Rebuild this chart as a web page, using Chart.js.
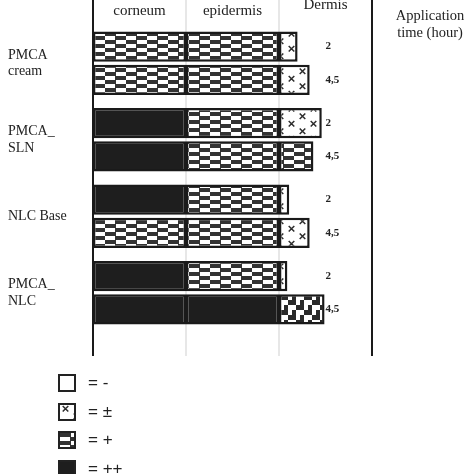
<!DOCTYPE html>
<html>
<head>
<meta charset="utf-8">
<script src="https://cdn.jsdelivr.net/npm/chart.js@4.4.0/dist/chart.umd.min.js"></script>
<style>
  body { margin: 0; background: #fff; }
  #wrap { position: relative; width: 474px; height: 474px; overflow: hidden; }
  #legend { position: absolute; left: 58px; top: 369px; font: 17px "Liberation Sans", Arial, sans-serif; color: #222; }
  .item { display: flex; align-items: center; height: 28.5px; }
  .item canvas { width: 18px; height: 18px; box-sizing: border-box; border: 2px solid #222; margin-right: 12px; }
</style>
</head>
<body>
<div id="wrap">
  <canvas id="chart"></canvas>
  <div id="legend"></div>
</div>
<script>
const groups = [['PMCA', 'cream'], ['PMCA_', 'SLN'], 'NLC Base', ['PMCA_', 'NLC']];
const times = ['2', '4,5'];
const layers = ['corneum', 'epidermis', 'Dermis'];

// how far the stain reaches into each layer (1 = whole layer)
const corneum2 = [1, 1, 1, 1];
const epidermis2 = [1, 1, 1, 1];
const dermis2 = [0.2, 0.46, 0.11, 0.09];
const corneum45 = [1, 1, 1, 1];
const epidermis45 = [1, 1, 1, 1];
const dermis45 = [0.33, 0.37, 0.33, 0.49];

// intensity in each layer
const corneumLevel2 = ['+', '++', '++', '++'];
const epidermisLevel2 = ['+', '+', '+', '+'];
const dermisLevel2 = ['±', '±', '±', '±'];
const corneumLevel45 = ['+', '++', '+', '++'];
const epidermisLevel45 = ['+', '+', '+', '++'];
const dermisLevel45 = ['±', '+', '±', '+*'];

const legendLevels = ['-', '±', '+', '++'];

function makeTile(w, h, draw) {
    let c = document.createElement('canvas');
    c.width = w;
    c.height = h;
    let ctx = c.getContext('2d');
    ctx.fillStyle = '#fff';
    ctx.fillRect(0, 0, w, h);
    draw(ctx);
    return c.getContext('2d').createPattern(c, 'repeat');
}

function cross(ctx, cx, cy, r) {
    ctx.beginPath();
    ctx.moveTo(cx - r, cy - r); ctx.lineTo(cx + r, cy + r);
    ctx.moveTo(cx + r, cy - r); ctx.lineTo(cx - r, cy + r);
    ctx.stroke();
}

const fills = {
    '-': '#ffffff',
    '±': makeTile(22, 15, ctx => {
        ctx.strokeStyle = '#2e2e2e';
        ctx.lineWidth = 1.5;
        cross(ctx, 5.5, 3.75, 2.8);
        cross(ctx, 16.5, 11.25, 2.8);
    }),
    '+': makeTile(21, 8, ctx => {
        ctx.fillStyle = '#333';
        ctx.fillRect(0, 0, 11, 4);
        ctx.fillRect(10, 4, 11, 4);
    }),
    '+*': makeTile(24, 15, ctx => {
        ctx.fillStyle = '#2a2a2a';
        ctx.fillRect(0, 0, 8, 5);
        ctx.fillRect(8, 5, 8, 5);
        ctx.fillRect(16, 10, 8, 5);
        ctx.fillRect(12, 0, 4, 5);
        ctx.fillRect(20, 5, 4, 5);
        ctx.fillRect(4, 10, 4, 5);
    }),
    '++': '#1e1e1e'
};

function layerSet(label, data, levels, stack) {
    return {
        label: label,
        data: data,
        stack: stack,
        backgroundColor: levels.map(l => fills[l]),
        borderColor: '#1a1a1a',
        borderWidth: 2.5,
        borderSkipped: false,
        categoryPercentage: 0.868,
        barPercentage: 0.91
    };
}

const layerLines = {
    id: 'layerLines',
    beforeDatasetsDraw(chart) {
        const {ctx, chartArea, scales: {x}} = chart;
        ctx.save();
        for (let v = 0; v <= layers.length; v++) {
            let px = Math.round(x.getPixelForValue(v));
            let edge = v === 0 || v === layers.length;
            ctx.strokeStyle = edge ? '#1a1a1a' : '#cfcfcf';
            ctx.lineWidth = edge ? 2 : 1;
            ctx.beginPath();
            ctx.moveTo(px, chartArea.top - 30);
            ctx.lineTo(px, chartArea.bottom + 25);
            ctx.stroke();
        }
        ctx.fillStyle = '#222';
        ctx.textAlign = 'center';
        ctx.textBaseline = 'middle';
        ctx.font = '15px "Liberation Serif", serif';
        layers.forEach((l, i) => {
            ctx.fillText(l, x.getPixelForValue(i + 0.5), chartArea.top - (i === 2 ? 20 : 14));
        });
        ctx.font = '14.5px "Liberation Serif", serif';
        ctx.fillText('Application', chartArea.right + 58, chartArea.top - 9);
        ctx.fillText('time (hour)', chartArea.right + 58, chartArea.top + 8);
        ctx.restore();
    },
    afterDatasetsDraw(chart) {
        const {ctx, scales: {x}} = chart;
        ctx.save();
        ctx.fillStyle = '#222';
        ctx.textAlign = 'left';
        ctx.textBaseline = 'middle';
        ctx.font = 'bold 11px "Liberation Serif", serif';
        chart.data.datasets.forEach((ds, i) => {
            if (ds.label !== layers[2]) return;
            chart.getDatasetMeta(i).data.forEach(bar => {
                ctx.fillText(ds.stack, x.getPixelForValue(2.5), bar.y);
            });
        });
        ctx.restore();
    }
};

new Chart(document.getElementById('chart'), {
    type: 'bar',
    data: {
        labels: groups,
        datasets: [
            layerSet(layers[0], corneum2, corneumLevel2, times[0]),
            layerSet(layers[1], epidermis2, epidermisLevel2, times[0]),
            layerSet(layers[2], dermis2, dermisLevel2, times[0]),
            layerSet(layers[0], corneum45, corneumLevel45, times[1]),
            layerSet(layers[1], epidermis45, epidermisLevel45, times[1]),
            layerSet(layers[2], dermis45, dermisLevel45, times[1])
        ]
    },
    options: {
        indexAxis: 'y',
        responsive: true,
        maintainAspectRatio: false,
        animation: false,
        events: [],
        layout: { padding: { left: 8, right: 102, top: 25, bottom: 143 } },
        scales: {
            x: { type: 'linear', min: 0, max: 3, stacked: true, display: false },
            y: {
                stacked: true,
                grid: { display: false },
                border: { display: false },
                ticks: {
                    crossAlign: 'far',
                    padding: 0,
                    color: '#222',
                    font: { family: 'Liberation Serif', size: 14 }
                },
                afterFit(axis) { axis.width = 85; }
            }
        },
        plugins: {
            legend: { display: false },
            tooltip: { enabled: false }
        }
    },
    plugins: [layerLines]
});

let legendEl = document.getElementById('legend');
legendLevels.forEach(l => {
    let row = document.createElement('div');
    row.className = 'item';
    let sw = document.createElement('canvas');
    sw.width = 14;
    sw.height = 14;
    let sctx = sw.getContext('2d');
    sctx.fillStyle = fills[l];
    sctx.fillRect(0, 0, 14, 14);
    row.appendChild(sw);
    let t = document.createElement('span');
    t.textContent = '= ' + l;
    row.appendChild(t);
    legendEl.appendChild(row);
});
</script>
</body>
</html>
